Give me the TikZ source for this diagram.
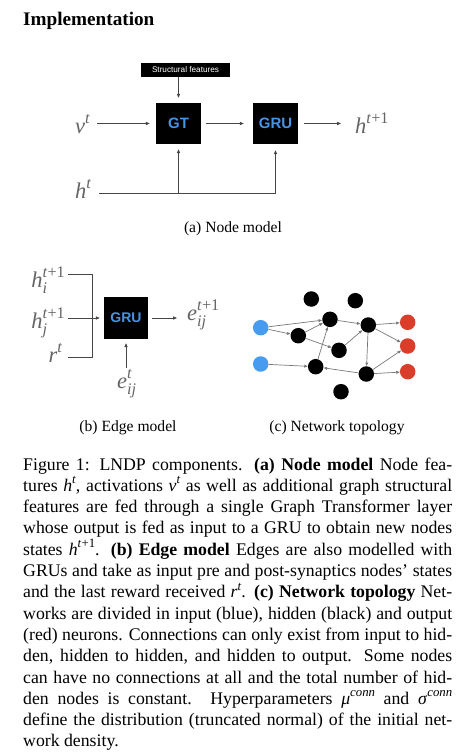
\documentclass[tikz,border=0pt]{standalone}
\usepackage{fontspec}
\usepackage{graphicx}
\setmainfont{Liberation Serif}
\newfontfamily\hvfont{Liberation Sans}
\usetikzlibrary{arrows.meta}
\definecolor{labgray}{RGB}{100,100,100}
\definecolor{linegray}{RGB}{70,70,70}
\definecolor{gtblue}{RGB}{68,148,232}
\definecolor{inblue}{RGB}{72,156,240}
\definecolor{outred}{RGB}{218,62,42}
\definecolor{edgegray}{RGB}{120,120,120}
\newsavebox\SupBoxA
\newsavebox\SupBoxB
\newcommand\SupSub[2]{%
 \sbox\SupBoxA{\raisebox{0.42em}{\scalebox{0.72}{#1}}}%
 \sbox\SupBoxB{\raisebox{-0.3em}{\scalebox{0.72}{#2}}}%
 \ifdim\wd\SupBoxA>\wd\SupBoxB\relax\rlap{\usebox\SupBoxB}\usebox\SupBoxA\else\rlap{\usebox\SupBoxA}\usebox\SupBoxB\fi}
\newcommand\mi[1]{\textit{#1}}
\newcommand\capline[1]{\hbox to 429pt{#1}}
\begin{document}
\begin{tikzpicture}[x=1pt,y=-1pt,
 blackbox/.style={fill=black,inner sep=0pt,text=gtblue,font=\hvfont\bfseries\fontsize{15}{15}\selectfont},
 wire/.style={draw=linegray,line width=0.75pt},
 warrow/.style={wire,-{Triangle[length=4pt,width=3.2pt]}},
 mlabel/.style={text=labgray,inner sep=0pt,font=\fontsize{22.5}{22.5}\selectfont\itshape},
 subcap/.style={inner sep=0pt,font=\fontsize{15.6}{18}\selectfont},
 neuron/.style={circle,fill=black,inner sep=0pt,minimum size=15.5pt},
 netarrow/.style={draw=edgegray,line width=0.7pt,-{Triangle[length=3.5pt,width=2.8pt]}}]
\useasboundingbox (0,0) rectangle (474,756);
\node[anchor=base west,inner sep=0pt,font=\bfseries\fontsize{19.2}{23}\selectfont] (title) at (23,25) {Implementation};

% (a) node model
\node[blackbox,minimum width=89pt,minimum height=14pt,text=white,font=\hvfont\fontsize{8.2}{9}\selectfont] (sf) at (185.5,70) {Structural features};
\node[blackbox,minimum width=45pt,minimum height=41pt] (gt) at (178.5,123.5) {GT};
\node[blackbox,minimum width=45pt,minimum height=41pt] (gru) at (275.5,123.5) {GRU};
\node[mlabel,anchor=base west] (vt) at (75,133) {v\SupSub{t}{}};
\node[mlabel,anchor=base west] (hn) at (355,133) {h\SupSub{t\textup{+1}}{}};
\node[mlabel,anchor=base west] (ht) at (75,198) {h\SupSub{t}{}};
\coordinate (vout) at (97,123.5);
\coordinate (hin) at (341,123.5);
\coordinate (hout) at (99,193);
\draw[warrow,shorten >=5pt] (sf.south -| gt.north) -- (gt.north);
\draw[warrow,shorten >=6pt] (vout) -- (vout -| gt.west);
\draw[warrow,shorten <=5pt,shorten >=9pt] (gt.east) -- (gru.west);
\draw[warrow,shorten <=6pt] (gru.east) -- (hin);
\draw[warrow,shorten >=6pt] (hout) -| (gru.south);
\draw[warrow,shorten >=5pt] (hout -| gt.south) -- (gt.south);
\node[subcap,anchor=base] (capa) at (233,232) {(a) Node model};

% (b) edge model
\node[blackbox,minimum width=44pt,minimum height=42pt,font=\hvfont\bfseries\fontsize{14}{14}\selectfont] (egru) at (126,318) {GRU};
\node[mlabel,anchor=base east] (hi) at (65,287) {h\SupSub{t\textup{+1}}{i}};
\node[mlabel,anchor=base east] (hj) at (65,328) {h\SupSub{t\textup{+1}}{j}};
\node[mlabel,anchor=base east] (rt) at (62,362) {r\SupSub{t}{}};
\node[mlabel,anchor=base west] (eo) at (187,320) {e\SupSub{t\textup{+1}}{ij}};
\node[mlabel,anchor=base west] (ei) at (117,388) {e\SupSub{t}{ij}};
\coordinate (hiw) at (68,274);
\coordinate (hjw) at (68,318);
\coordinate (rtw) at (68,357);
\coordinate (bt) at (92,274);
\coordinate (bb) at (92,357);
\coordinate (eow) at (177,318);
\coordinate (eiw) at (126,368);
\draw[wire] (hiw) -- (bt) -- (bb) -- (rtw);
\draw[warrow,shorten >=4pt] (hjw) -- (egru.west);
\draw[warrow,shorten <=4pt] (egru.east) -- (eow);
\draw[warrow,shorten >=4pt] (eiw) -- (egru.south);
\node[subcap,anchor=base] (capb) at (128,431) {(b) Edge model};

% (c) network topology
\node[neuron,fill=inblue] (i1) at (260.7,327.7) {};
\node[neuron,fill=inblue] (i2) at (260.7,364) {};
\node[neuron] (nA) at (311.3,299) {};
\node[neuron] (nB) at (355.3,300.7) {};
\node[neuron] (nC) at (330,319.3) {};
\node[neuron] (nD) at (298.3,335.7) {};
\node[neuron] (nE) at (368.3,325) {};
\node[neuron] (nF) at (339,350.3) {};
\node[neuron] (nG) at (315.7,366.7) {};
\node[neuron] (nH) at (366.3,374) {};
\node[neuron] (nI) at (341,391.7) {};
\node[neuron,fill=outred] (o1) at (407.7,322.3) {};
\node[neuron,fill=outred] (o2) at (407.7,346) {};
\node[neuron,fill=outred] (o3) at (407.7,371.7) {};
\draw[netarrow] (i1) -- (nC);
\draw[netarrow] (i1) -- (nD);
\draw[netarrow] (nD) -- (nC);
\draw[netarrow] (nD) -- (nF);
\draw[netarrow] (i2) -- (nG);
\draw[netarrow] (nG) -- (nC);
\draw[netarrow] (nC) -- (nE);
\draw[netarrow] (nF) -- (nE);
\draw[netarrow] (nE) -- (o1);
\draw[netarrow] (nE) -- (o2);
\draw[netarrow] (nE) -- (nH);
\draw[netarrow] (nH) -- (nG);
\draw[netarrow] (nH) -- (o2);
\draw[netarrow] (nH) -- (o3);
\node[subcap,anchor=base] (capc) at (337,431) {(c) Network topology};

% caption
\node[anchor=base west,inner sep=0pt,font=\fontsize{17.75}{21.3}\selectfont] (cap) at (23,470) {\parbox[t]{429pt}{%
\capline{Figure 1: LNDP components. {\bfseries (a) Node model} Node fea-}%
\capline{tures \mi{h}\SupSub{\mi{t}}{}, activations \mi{v}\SupSub{\mi{t}}{} as well as additional graph structural}%
\capline{features are fed through a single Graph Transformer layer}%
\capline{whose output is fed as input to a GRU to obtain new nodes}%
\capline{states \mi{h}\SupSub{\mi{t}+1}{}. {\bfseries (b) Edge model} Edges are also modelled with}%
\capline{GRUs and take as input pre and post-synaptics nodes’ states}%
\capline{and the last reward received \mi{r}\SupSub{\mi{t}}{}. {\bfseries (c) Network topology} Net-}%
\capline{works are divided in input (blue), hidden (black) and output}%
\capline{(red) neurons. Connections can only exist from input to hid-}%
\capline{den, hidden to hidden, and hidden to output. Some nodes}%
\capline{can have no connections at all and the total number of hid-}%
\capline{den nodes is constant. Hyperparameters \mi{μ}\SupSub{\mi{conn}}{} and \mi{σ}\SupSub{\mi{conn}}{}}%
\capline{define the distribution (truncated normal) of the initial net-}%
\hbox{work density.}}};
\end{tikzpicture}
\end{document}
